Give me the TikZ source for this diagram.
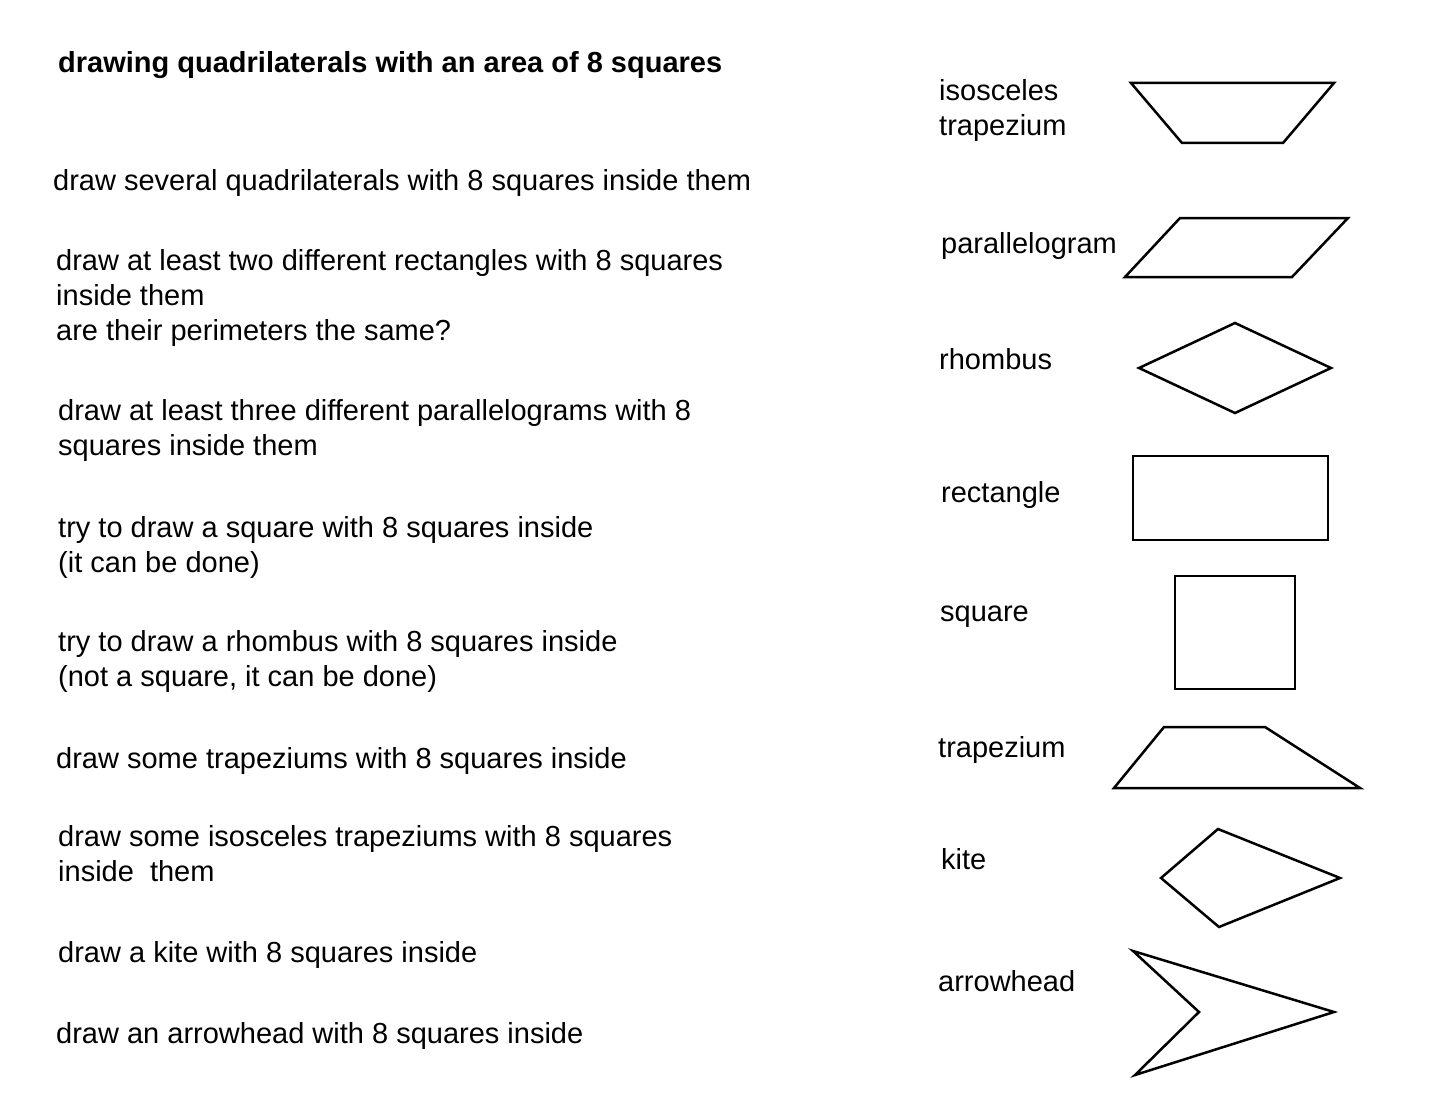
\documentclass[tikz,border=0pt]{standalone}
\usepackage{fontspec}
\setmainfont{Liberation Sans}
\begin{document}
\begin{tikzpicture}[x=1pt,y=-1pt,
  txt/.style={anchor=base west,inner sep=0pt,font=\fontsize{29}{35}\selectfont,align=left},
  shp/.style={draw,line width=2.5pt,line join=miter}]
\useasboundingbox (0,0) rectangle (1434,1110);
\node[txt,font=\bfseries\fontsize{29}{35}\selectfont] (title) at (58,73) {drawing quadrilaterals with an area of 8 squares};
\node[txt] (t1) at (53,190) {draw several quadrilaterals with 8 squares inside them};
\node[txt] (t2) at (56,340) {draw at least two different rectangles with 8 squares\\inside them\\are their perimeters the same?};
\node[txt] (t3) at (58,455) {draw at least three different parallelograms with 8\\squares inside them};
\node[txt] (t4) at (58,572) {try to draw a square with 8 squares inside\\(it can be done)};
\node[txt] (t5) at (58,686) {try to draw a rhombus with 8 squares inside\\(not a square, it can be done)};
\node[txt] (t6) at (56,768) {draw some trapeziums with 8 squares inside};
\node[txt] (t7) at (58,881) {draw some isosceles trapeziums with 8 squares\\inside\ \ them};
\node[txt] (t8) at (58,962) {draw a kite with 8 squares inside};
\node[txt] (t9) at (56,1043) {draw an arrowhead with 8 squares inside};
\node[txt] (l1) at (939,136) {isosceles\\trapezium};
\node[txt] (l2) at (941,253) {parallelogram};
\node[txt] (l3) at (939,369) {rhombus};
\node[txt] (l4) at (941,502) {rectangle};
\node[txt] (l5) at (940,621) {square};
\node[txt] (l6) at (938,757) {trapezium};
\node[txt] (l7) at (941,869) {kite};
\node[txt] (l8) at (938,991) {arrowhead};
\draw[shp] (1131,83)--(1334,83)--(1283,143)--(1182,143)--cycle;
\draw[shp] (1180,218)--(1348,218)--(1292,277)--(1125,277)--cycle;
\draw[shp] (1139,368)--(1235,323)--(1331,368)--(1235,413)--cycle;
\draw[shp] (1133,456) rectangle (1328,540);
\draw[shp] (1175,576) rectangle (1295,689);
\draw[shp] (1114,788)--(1164,727)--(1265,727)--(1360,788)--cycle;
\draw[shp] (1161,878)--(1218,829)--(1340,878)--(1219,927)--cycle;
\draw[shp] (1133,951)--(1334,1012)--(1135,1075)--(1199,1012)--cycle;
\end{tikzpicture}
\end{document}
